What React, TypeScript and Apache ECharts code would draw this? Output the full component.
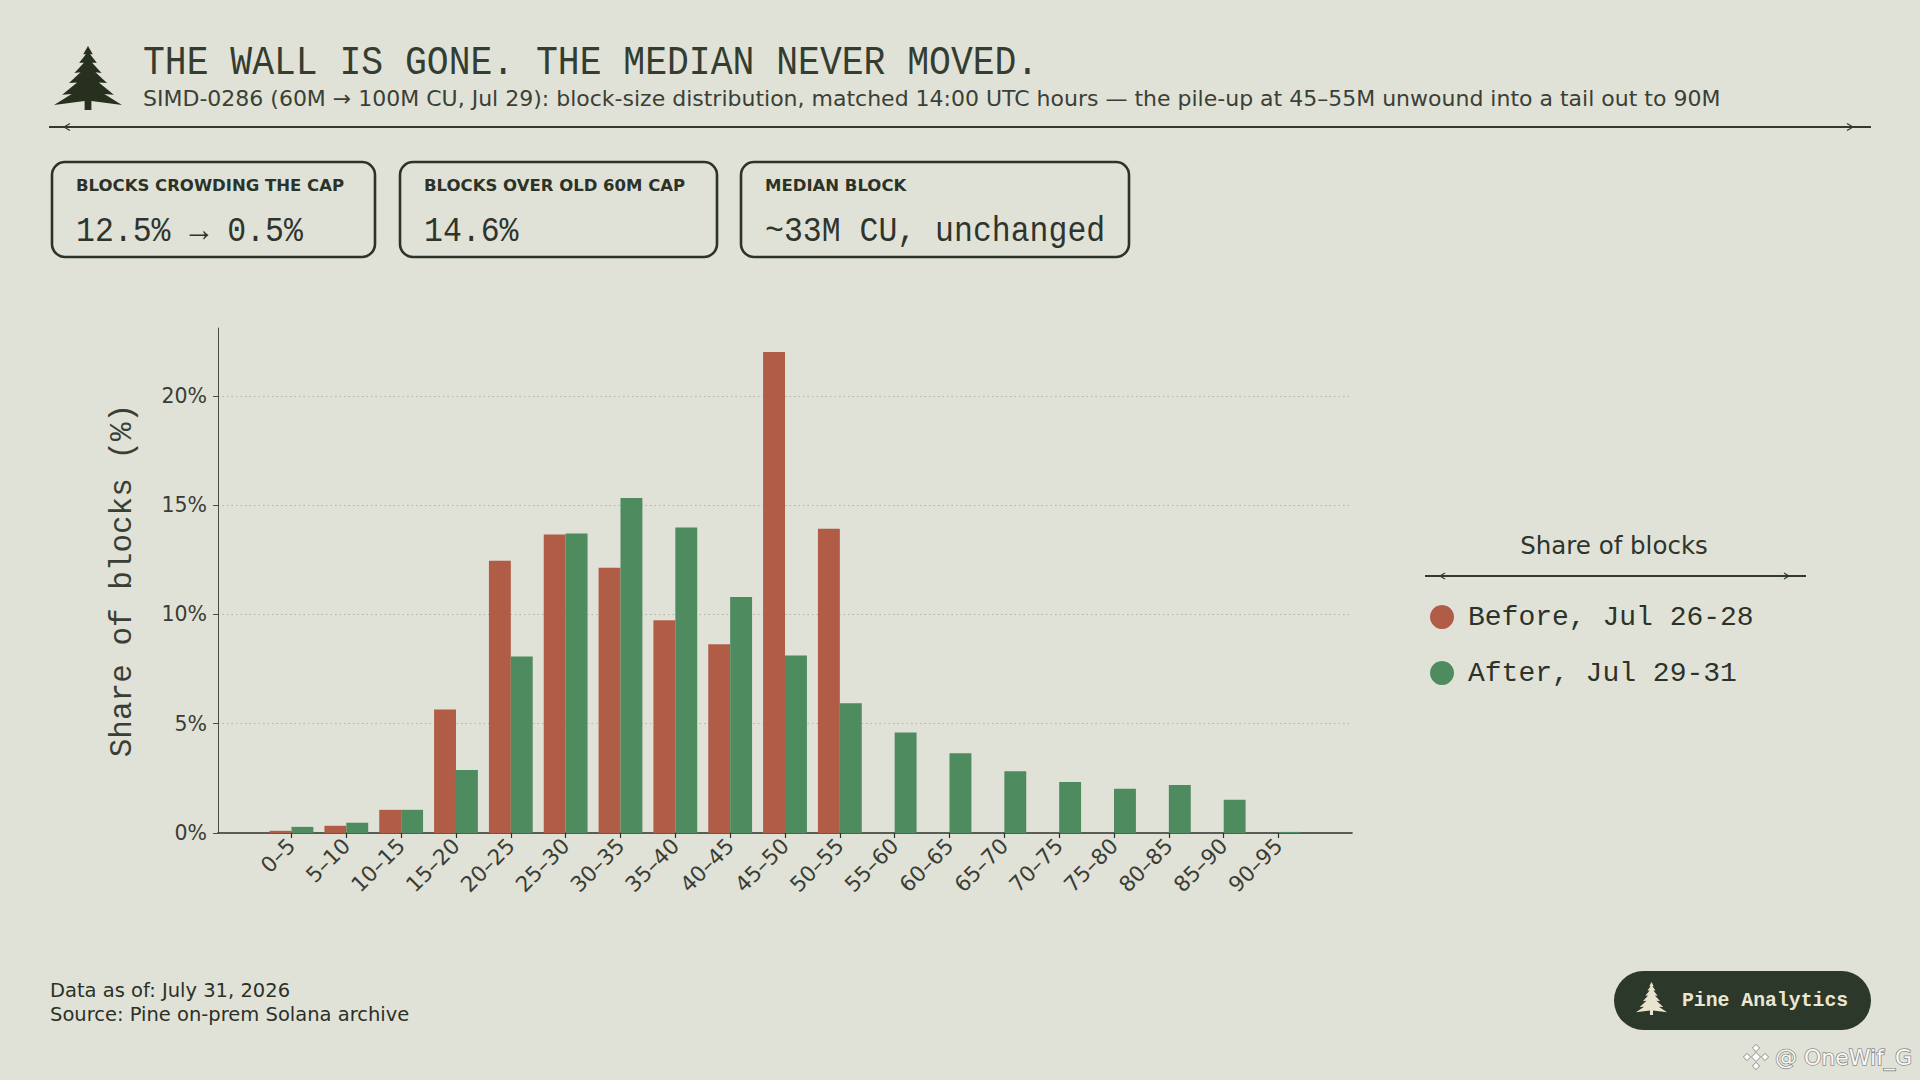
import React, { useEffect, useRef } from "react";
import * as echarts from "echarts";

// ---------- data ----------
const categories = [
  "0–5", "5–10", "10–15", "15–20", "20–25", "25–30", "30–35", "35–40", "40–45", "45–50",
  "50–55", "55–60", "60–65", "65–70", "70–75", "75–80", "80–85", "85–90", "90–95",
];
const beforeShare = [0.1, 0.33, 1.06, 5.65, 12.45, 13.65, 12.13, 9.73, 8.63, 22.0, 13.92, 0, 0, 0, 0, 0, 0, 0, 0];
const afterShare = [0.28, 0.47, 1.06, 2.88, 8.07, 13.7, 15.32, 13.97, 10.8, 8.12, 5.93, 4.6, 3.65, 2.83, 2.33, 2.02, 2.2, 1.52, 0.05];
const seriesNames = ["Before, Jul 26-28", "After, Jul 29-31"];
const yTicks = [0, 5, 10, 15, 20];
const yMax = 23.1;

const kpiLabels = ["BLOCKS CROWDING THE CAP", "BLOCKS OVER OLD 60M CAP", "MEDIAN BLOCK"];
const kpiValues = ["12.5% → 0.5%", "14.6%", "~33M CU, unchanged"];

const titleText = "THE WALL IS GONE. THE MEDIAN NEVER MOVED.";
const subtitleText =
  "SIMD-0286 (60M → 100M CU, Jul 29): block-size distribution, matched 14:00 UTC hours — the pile-up at 45–55M unwound into a tail out to 90M";
const footerLines = ["Data as of: July 31, 2026", "Source: Pine on-prem Solana archive"];

// ---------- style ----------
const MONO = "'Liberation Mono', 'DejaVu Sans Mono', monospace";
const SANS = "'DejaVu Sans', 'Noto Sans', sans-serif";
const INK = "#323b2e";
const RED = "#b05c47";
const GREEN = "#4e8b5f";
const BG = "#e1e2d7";

const TREE_D =
  "M50 0 L57 13 L53 13 L63 26 L56 26 L70 42 L61 41 L78 58 L66 57 L88 76 L74 75 L100 92 L55 86 L55 100 L45 100 L45 86 L0 92 L26 75 L12 76 L34 57 L22 58 L39 41 L30 42 L44 26 L37 26 L47 13 L43 13 Z";

let registered = false;
function ensureShapes() {
  if (registered) return;
  registered = true;
  echarts.graphic.registerShape("pineTree", echarts.graphic.extendPath(TREE_D, {}));
}

function chevron(x: number, y: number, dir: number, s = 6) {
  return {
    type: "polyline",
    shape: { points: [[x + dir * s, y - s * 0.6], [x, y], [x + dir * s, y + s * 0.6]] },
    style: { stroke: INK, fill: "none", lineWidth: 1.2 },
  };
}

export default function App() {
  const ref = useRef<HTMLDivElement>(null);

  useEffect(() => {
    if (!ref.current) return;
    ensureShapes();
    const chart = echarts.init(ref.current, null, { renderer: "svg" });

    const cardX = [52, 400, 741];
    const cardW = [323, 317, 388];
    const graphics: any[] = [];

    // header
    graphics.push({ type: "pineTree", x: 54, y: 46, scaleX: 0.68, scaleY: 0.64, style: { fill: "#27301f" } });
    graphics.push({
      type: "text", x: 143, y: 63, scaleY: 1.14,
      style: { text: titleText, fontFamily: MONO, fontSize: 36.4, fill: "#343d30", verticalAlign: "middle" },
    });
    graphics.push({
      type: "text", x: 143, y: 98,
      style: { text: subtitleText, fontFamily: SANS, fontSize: 22, fill: "#3a4036", verticalAlign: "middle" },
    });
    graphics.push({ type: "line", shape: { x1: 49, y1: 127, x2: 1871, y2: 127 }, style: { stroke: INK, lineWidth: 2.2 } });
    graphics.push(chevron(64, 127, 1));
    graphics.push(chevron(1853, 127, -1));

    // KPI cards
    kpiLabels.forEach((lab, i) => {
      graphics.push({
        type: "rect",
        shape: { x: cardX[i], y: 162, width: cardW[i], height: 95, r: 13 },
        style: { fill: "none", stroke: "#2b3427", lineWidth: 2.6 },
      });
      graphics.push({
        type: "text", x: cardX[i] + 24, y: 185,
        style: { text: lab, fontFamily: SANS, fontWeight: "bold", fontSize: 16.5, fill: "#2b3328", verticalAlign: "middle" },
      });
      graphics.push({
        type: "text", x: cardX[i] + 24, y: 232, scaleY: 1.1,
        style: { text: kpiValues[i], fontFamily: MONO, fontSize: 31.5, fill: "#2f352c", verticalAlign: "middle" },
      });
    });

    // legend heading
    graphics.push({
      type: "text", x: 1614, y: 545,
      style: { text: "Share of blocks", fontFamily: SANS, fontSize: 24.5, fill: "#2f352c", align: "center", verticalAlign: "middle" },
    });
    graphics.push({ type: "line", shape: { x1: 1425, y1: 576, x2: 1806, y2: 576 }, style: { stroke: INK, lineWidth: 2 } });
    graphics.push(chevron(1440, 576, 1, 5));
    graphics.push(chevron(1789, 576, -1, 5));

    // footer
    footerLines.forEach((t, i) => {
      graphics.push({
        type: "text", x: 50, y: 990 + i * 24,
        style: { text: t, fontFamily: SANS, fontSize: 19.5, fill: "#2b3128", verticalAlign: "middle" },
      });
    });

    // badge
    graphics.push({
      type: "rect",
      shape: { x: 1614, y: 971, width: 257, height: 59, r: 29.5 },
      style: { fill: "#2c3829" },
    });
    graphics.push({ type: "pineTree", x: 1636, y: 982, scaleX: 0.31, scaleY: 0.33, style: { fill: "#e9e4cf" } });
    graphics.push({
      type: "text", x: 1682, y: 1001,
      style: { text: "Pine Analytics", fontFamily: MONO, fontWeight: "bold", fontSize: 19.8, fill: "#ebe6d2", verticalAlign: "middle" },
    });

    // watermark
    const wx = 1756, wy = 1057;
    [[0, -9], [0, 9], [-9, 0], [9, 0], [0, 0]].forEach(([dx, dy]) => {
      const s = dx === 0 && dy === 0 ? 4.5 : 3.6;
      graphics.push({
        type: "polygon",
        shape: { points: [[wx + dx, wy + dy - s], [wx + dx + s, wy + dy], [wx + dx, wy + dy + s], [wx + dx - s, wy + dy]] },
        style: { fill: "rgba(255,255,255,0.95)", stroke: "rgba(80,80,80,0.6)", lineWidth: 1 },
      });
    });
    graphics.push({
      type: "text", x: 1775, y: wy,
      style: {
        text: "@ OneWif_G", fontFamily: SANS, fontSize: 22, fill: "rgba(255,255,255,0.95)",
        verticalAlign: "middle", stroke: "rgba(80,80,80,0.6)", lineWidth: 1.6,
      },
    });

    const idx = categories.map((_, i) => i);

    chart.setOption({
      animation: false,
      backgroundColor: BG,
      grid: { left: 218, top: 328, width: 1134, height: 505, containLabel: false, outerBoundsMode: "none" },
      legend: {
        orient: "vertical",
        left: 1425,
        top: 597,
        itemWidth: 24,
        itemHeight: 24,
        itemGap: 26,
        icon: "circle",
        selectedMode: false,
        data: seriesNames,
        textStyle: { fontFamily: MONO, fontSize: 28, color: "#2e3329", lineHeight: 30, padding: [0, 0, 0, 9] },
      },
      xAxis: {
        type: "value",
        min: -1.34,
        max: 19.34,
        splitLine: { show: false },
        axisLine: { show: true, onZero: false, lineStyle: { color: "#2d2f2a", width: 1.6 } },
        axisTick: { show: true, length: 5, customValues: idx, lineStyle: { color: "#2d2f2a", width: 1.2 } },
        axisLabel: {
          customValues: idx,
          rotate: 45,
          margin: 9,
          fontFamily: SANS,
          fontSize: 21.5,
          color: "#3a3d35",
          formatter: (v: number) => categories[Math.round(v)] ?? "",
        },
      },
      yAxis: {
        type: "value",
        min: 0,
        max: yMax,
        interval: 5,
        name: "Share of blocks (%)",
        nameLocation: "middle",
        nameGap: 80,
        nameTextStyle: { fontFamily: MONO, fontSize: 31, color: "#3a3f36" },
        axisLine: { show: true, onZero: false, lineStyle: { color: "#4a4c45", width: 1 } },
        axisTick: { show: true, length: 5, customValues: yTicks, lineStyle: { color: "#4a4c45" } },
        axisLabel: {
          customValues: yTicks,
          fontFamily: SANS, fontSize: 20.5, color: "#3a3d35", margin: 11,
          formatter: (v: number) => `${v}%`,
        },
        splitLine: {
          show: true, showMaxLine: true, showMinLine: false,
          lineStyle: { type: [1.5, 3], color: "#b3b5a8", width: 1 },
        },
      },
      series: [
        {
          name: seriesNames[0],
          type: "bar",
          barWidth: 21.9,
          barGap: "0%",
          itemStyle: { color: RED },
          data: beforeShare.map((v, i) => [i, v]),
          silent: true,
        },
        {
          name: seriesNames[1],
          type: "bar",
          barWidth: 21.9,
          barGap: "0%",
          itemStyle: { color: GREEN },
          data: afterShare.map((v, i) => [i, v]),
          silent: true,
        },
      ],
      graphic: { elements: graphics.map((g) => ({ silent: true, ...g })) },
    });

    return () => chart.dispose();
  }, []);

  return (
    <div
      ref={ref}
      style={{ position: "fixed", left: 0, top: 0, width: 1920, height: 1080 }}
    />
  );
}
